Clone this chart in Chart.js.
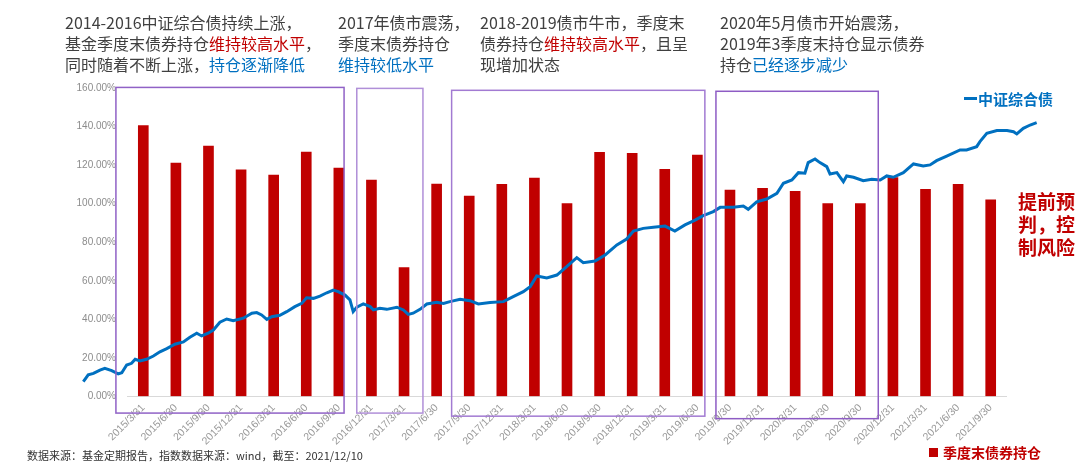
<!DOCTYPE html>
<html lang="zh-CN">
<head>
<meta charset="utf-8">
<title>中证综合债与季度末债券持仓</title>
<script src="https://cdn.jsdelivr.net/npm/chart.js@4.4.1/dist/chart.umd.min.js"></script>
<style>
  html, body { margin: 0; padding: 0; background: #fff; }
  #wrap { position: relative; width: 1080px; height: 463px; overflow: hidden; font-family: "Noto Sans CJK SC", sans-serif; }
  #grafico { position: absolute; left: 0; top: 0; }
  .nota { position: absolute; font-size: 16px; line-height: 21px; color: #404040; white-space: nowrap; }
  .vermelho { color: #C00000; }
  .azul { color: #0070C0; }
  .legenda-linha { position: absolute; left: 964px; top: 88px; font-size: 15px; font-weight: bold; color: #0070C0; white-space: nowrap; }
  .legenda-linha i { display: inline-block; width: 13px; height: 3px; background: #0070C0; margin-right: 1px; vertical-align: 5px; }
  .alerta { position: absolute; left: 1018px; top: 189px; font-size: 19px; line-height: 23px; font-weight: bold; color: #C00000; white-space: nowrap; }
  .legenda-barra { position: absolute; left: 929px; top: 442px; font-size: 14px; font-weight: bold; color: #C00000; white-space: nowrap; }
  .legenda-barra i { display: inline-block; width: 9px; height: 9px; background: #C00000; margin-right: 5px; vertical-align: 1px; }
  .fonte { position: absolute; left: 27px; top: 447px; font-size: 11px; color: #333; white-space: nowrap; }
</style>
</head>
<body>
<div id="wrap">
  <canvas id="grafico" width="1080" height="463"></canvas>

  <div class="nota" style="left:65px;top:12px">2014-2016中证综合债持续上涨，<br>基金季度末债券持仓<span class="vermelho">维持较高水平</span>，<br>同时随着不断上涨，<span class="azul">持仓逐渐降低</span></div>
  <div class="nota" style="left:338px;top:12px">2017年债市震荡，<br>季度末债券持仓<br><span class="azul">维持较低水平</span></div>
  <div class="nota" style="left:480px;top:12px">2018-2019债市牛市，季度末<br>债券持仓<span class="vermelho">维持较高水平</span>，且呈<br>现增加状态</div>
  <div class="nota" style="left:720px;top:12px">2020年5月债市开始震荡，<br>2019年3季度末持仓显示债券<br>持仓<span class="azul">已经逐步减少</span></div>

  <div class="legenda-linha"><i></i>中证综合债</div>
  <div class="alerta">提前预<br>判，控<br>制风险</div>
  <div class="legenda-barra"><i></i>季度末债券持仓</div>
  <div class="fonte">数据来源：基金定期报告，指数数据来源：wind，截至：2021/12/10</div>
</div>

<script>
// 季度末日期
var categorias = [
  "2015/3/31", "2015/6/30", "2015/9/30", "2015/12/31",
  "2016/3/31", "2016/6/30", "2016/9/30", "2016/12/31",
  "2017/3/31", "2017/6/30", "2017/9/30", "2017/12/31",
  "2018/3/31", "2018/6/30", "2018/9/30", "2018/12/31",
  "2019/3/31", "2019/6/30", "2019/9/30", "2019/12/31",
  "2020/3/31", "2020/6/30", "2020/9/30", "2020/12/31",
  "2021/3/31", "2021/6/30", "2021/9/30",
];

// 季度末债券持仓 (%)
var posicaoTrimestral = [
  140.5, 121.1, 129.9, 117.5, 114.9, 126.8, 118.5, 112.3,
  66.8, 110.2, 104.0, 110.0, 113.3, 100.0, 126.6, 126.1,
  117.8, 125.2, 107.0, 108.0, 106.4, 100.0, 100.0, 113.5,
  107.5, 110.0, 102.0,
];

// 中证综合债：时间（以 2015/3/31 为 0 的季度数）
var tempoIndice = [
  -1.84, -1.69, -1.53, -1.33, -1.18, -0.97, -0.77, -0.66, -0.51, -0.36,
  -0.25, -0.10, 0.10, 0.31, 0.51, 0.72, 0.97, 1.23, 1.43, 1.64,
  1.79, 1.99, 2.15, 2.35, 2.56, 2.76, 3.07, 3.33, 3.48, 3.63,
  3.79, 3.94, 4.19, 4.40, 4.65, 4.86, 5.01, 5.22, 5.42, 5.63,
  5.83, 5.98, 6.19, 6.34, 6.44, 6.55, 6.75, 6.96, 7.06, 7.26,
  7.47, 7.78, 7.98, 8.13, 8.28, 8.49, 8.70, 9.00, 9.21, 9.41,
  9.72, 10.02, 10.28, 10.64, 11.05, 11.35, 11.66, 11.87, 12.07, 12.38,
  12.69, 12.99, 13.30, 13.50, 13.86, 14.17, 14.53, 14.83, 15.04, 15.34,
  15.65, 16.01, 16.31, 16.62, 16.93, 17.18, 17.49, 17.70, 18.10, 18.41,
  18.56, 18.82, 19.13, 19.44, 19.64, 19.90, 20.10, 20.30, 20.40, 20.61,
  20.76, 20.97, 21.07, 21.28, 21.48, 21.58, 21.79, 22.09, 22.35, 22.61,
  22.81, 23.01, 23.32, 23.63, 23.93, 24.14, 24.34, 24.65, 25.06, 25.26,
  25.57, 25.67, 25.88, 26.19, 26.50, 26.70, 26.80, 27.00, 27.21, 27.41,
];

// 中证综合债累计涨幅 (%)
var valorIndice = [
  7.7, 11.2, 12.0, 13.7, 14.6, 13.4, 11.7, 12.3, 16.3, 17.2,
  19.3, 18.4, 19.3, 21.0, 23.2, 24.8, 27.1, 28.3, 30.7, 32.8,
  31.4, 32.8, 34.5, 38.5, 40.2, 39.3, 40.6, 43.2, 43.5, 42.3,
  40.0, 41.4, 42.1, 44.0, 46.6, 48.3, 51.2, 50.9, 52.1, 53.8,
  55.2, 54.4, 52.6, 50.1, 44.0, 46.3, 48.0, 46.6, 44.9, 45.7,
  45.2, 46.3, 44.9, 42.6, 43.2, 45.2, 48.0, 48.9, 48.3, 49.2,
  50.4, 49.7, 48.0, 48.7, 49.2, 51.8, 54.4, 57.0, 62.5, 61.5,
  63.0, 67.3, 72.0, 69.4, 70.3, 73.4, 78.6, 81.7, 85.8, 87.2,
  87.8, 88.4, 85.8, 89.0, 91.5, 93.8, 95.9, 98.1, 98.1, 98.8,
  97.1, 101.0, 102.4, 105.4, 110.6, 112.3, 116.1, 115.8, 121.3, 123.2,
  121.3, 119.2, 115.4, 116.1, 111.4, 114.4, 113.7, 111.9, 112.7, 112.3,
  114.4, 113.7, 116.1, 120.6, 119.6, 120.1, 122.3, 124.7, 127.9, 127.9,
  129.6, 132.2, 136.5, 137.9, 137.9, 137.3, 136.2, 139.1, 140.8, 142.0,
];

// 各阶段的框（季度数范围）
var faseInicio = [-0.84, 6.55, 9.46, 17.57];
var faseFim = [6.16, 8.58, 17.23, 22.55];

var dadosBarra = categorias.map(function (c, i) {
  return { x: i, y: posicaoTrimestral[i] };
});
var dadosLinha = tempoIndice.map(function (t, i) {
  return { x: t, y: valorIndice[i] };
});

// 画阶段框
var caixas = {
  id: "caixas",
  afterDraw: function (chart) {
    var c = chart.ctx;
    var sx = chart.scales.x;
    var sy = chart.scales.y;
    var topos = [160.3, 159.8, 158.8, 158.3];
    var bases = [-8.6, -8.6, -10.2, -11.5];
    var cores = ["#9062c6", "#b08fd8", "#a27ad2", "#8e5cc4"];
    c.save();
    c.lineWidth = 1.5;
    for (var i = 0; i < faseInicio.length; i++) {
      var x1 = sx.getPixelForValue(faseInicio[i]);
      var x2 = sx.getPixelForValue(faseFim[i]);
      var y1 = sy.getPixelForValue(topos[i]);
      var y2 = sy.getPixelForValue(bases[i]);
      c.strokeStyle = cores[i];
      c.strokeRect(x1, y1, x2 - x1, y2 - y1);
    }
    c.restore();
  },
};

var ctx = document.getElementById("grafico").getContext("2d");

var grafico = new Chart(ctx, {
  type: "bar",
  data: {
    datasets: [
      {
        type: "line",
        label: "中证综合债",
        data: dadosLinha,
        borderColor: "#0070C0",
        borderWidth: 3,
        pointRadius: 0,
        tension: 0,
        clip: false,
        order: 0,
      },
      {
        type: "bar",
        label: "季度末债券持仓",
        data: dadosBarra,
        backgroundColor: "#C00000",
        barThickness: 10,
        order: 1,
      },
    ],
  },
  options: {
    responsive: false,
    animation: false,
    layout: { padding: { top: 88, right: 73, left: 0, bottom: 0 } },
    plugins: {
      legend: { display: false },
      tooltip: { enabled: false },
    },
    scales: {
      x: {
        type: "linear",
        bounds: "data",
        offset: false,
        afterDataLimits: function (s) {
          s.min = -0.5;
          s.max = 26.5;
        },
        afterBuildTicks: function (s) {
          s.ticks = categorias.map(function (c, i) { return { value: i }; });
        },
        afterFit: function (s) {
          s.height = 66.5;
          s.paddingLeft = 0;
          s.paddingRight = 0;
        },
        grid: { display: false, drawTicks: false, offset: false },
        border: { display: false },
        ticks: {
          autoSkip: false,
          minRotation: 45,
          maxRotation: 45,
          padding: 5,
          color: "#999999",
          font: { family: "Liberation Sans", size: 10.5 },
          callback: function (v) {
            return categorias[Math.round(v)];
          },
        },
      },
      y: {
        min: 0,
        max: 160,
        afterFit: function (s) {
          s.width = 127;
        },
        grid: {
          drawTicks: false,
          color: function (c) {
            return c.tick && c.tick.value === 0 ? "#d9d9d9" : "rgba(0,0,0,0)";
          },
        },
        border: { display: false },
        ticks: {
          stepSize: 20,
          padding: 11,
          color: "#8c8c8c",
          font: { family: "Liberation Sans", size: 10 },
          callback: function (v) {
            return v.toFixed(2) + "%";
          },
        },
      },
    },
  },
  plugins: [caixas],
});
</script>
</body>
</html>
